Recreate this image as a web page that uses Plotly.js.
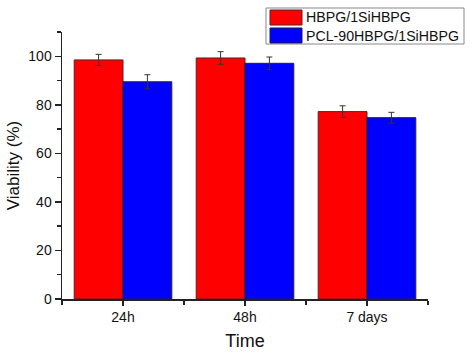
<!DOCTYPE html>
<html><head><meta charset="utf-8">
<script src="https://cdn.plot.ly/plotly-3.0.1.min.js"></script>
<style>html,body{margin:0;padding:0;background:#fff}#c{width:474px;height:355px}</style>
</head><body><div id="c"></div>
<script>
const categories = ["24h", "48h", "7 days"];
const seriesNames = ["HBPG/1SiHBPG", "PCL-90HBPG/1SiHBPG"];
const hbpgValues = [98.5, 99.3, 77.2];
const hbpgErrors = [2.3, 2.6, 2.4];
const pclValues = [89.5, 97.1, 74.7];
const pclErrors = [2.9, 2.6, 2.2];
const yTicks = [0, 20, 40, 60, 80, 100];

const xPos = categories.map((c, i) => i);
const L = 62, R = 428, T = 32, B = 299;
const px = v => (v - L) / (R - L);
const py = v => (B - v) / (B - T);

const font = "Arial, 'Liberation Sans', sans-serif";
const traces = [
  {type: "bar", name: seriesNames[0], x: xPos, y: hbpgValues,
   marker: {color: "#ff0000", line: {color: "#5a2020", width: 1}},
   error_y: {type: "data", array: hbpgErrors, visible: true, color: "#333", thickness: 1, width: 3},
   showlegend: false},
  {type: "bar", name: seriesNames[1], x: xPos, y: pclValues,
   marker: {color: "#0000ff", line: {color: "#202040", width: 1}},
   error_y: {type: "data", array: pclErrors, visible: true, color: "#333", thickness: 1, width: 3},
   showlegend: false}
];

const layout = {
  width: 474, height: 355,
  margin: {l: L, r: 474 - R, t: T, b: 355 - B},
  paper_bgcolor: "#fff", plot_bgcolor: "#fff",
  barmode: "group", bargap: 0.2, bargroupgap: 0,
  font: {family: font, color: "#111"},
  xaxis: {
    range: [-0.5, 2.5], tickvals: xPos, ticktext: categories,
    showgrid: false, zeroline: false, showline: true, linecolor: "#222", linewidth: 1.5,
    ticks: "outside", ticklen: 5, tickwidth: 1.5, tickcolor: "#222",
    tickfont: {size: 14, family: font, color: "#111"},
    minor: {tick0: 0.5, dtick: 1, ticks: "outside", ticklen: 4, tickwidth: 1.5, tickcolor: "#222", showgrid: false},
    title: {text: "Time", font: {size: 18, family: font, color: "#111"}, standoff: 10}
  },
  yaxis: {
    range: [0, 110], tickvals: yTicks,
    showgrid: false, zeroline: false, showline: true, linecolor: "#222", linewidth: 1.5,
    ticks: "outside", ticklen: 6, tickwidth: 1.5, tickcolor: "#222",
    tickfont: {size: 14, family: font, color: "#111"},
    minor: {dtick: 10, ticks: "outside", ticklen: 4, tickwidth: 1.5, tickcolor: "#222", showgrid: false},
    title: {text: "Viability (%)", font: {size: 17, family: font, color: "#111"}, standoff: 4}
  },
  shapes: [
    {type: "rect", xref: "paper", yref: "paper", x0: px(266), x1: px(464), y0: py(44), y1: py(8),
     line: {color: "#888", width: 1}, fillcolor: "#fff"},
    {type: "rect", xref: "paper", yref: "paper", x0: px(270), x1: px(302), y0: py(25), y1: py(10),
     line: {color: "#5a2020", width: 1}, fillcolor: "#ff0000"},
    {type: "rect", xref: "paper", yref: "paper", x0: px(270), x1: px(302), y0: py(43), y1: py(28),
     line: {color: "#202040", width: 1}, fillcolor: "#0000ff"}
  ],
  annotations: [
    {xref: "paper", yref: "paper", x: px(304), y: py(17.5), xanchor: "left", yanchor: "middle",
     text: seriesNames[0], showarrow: false, font: {size: 14.2, family: font, color: "#111"}},
    {xref: "paper", yref: "paper", x: px(304), y: py(35.5), xanchor: "left", yanchor: "middle",
     text: seriesNames[1], showarrow: false, font: {size: 14.2, family: font, color: "#111"}}
  ]
};
Plotly.newPlot("c", traces, layout, {displayModeBar: false, staticPlot: true});
</script></body></html>
